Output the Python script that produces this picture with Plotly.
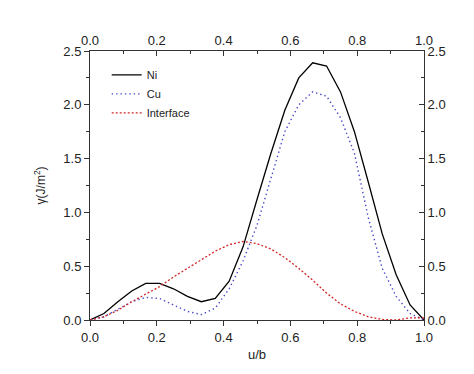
import plotly.graph_objects as go

u_b = [i / 24 for i in range(25)]
ni = [0.0, 0.06, 0.17, 0.27, 0.34, 0.34, 0.29, 0.22, 0.17, 0.20, 0.36, 0.68, 1.12,
      1.55, 1.95, 2.25, 2.39, 2.36, 2.12, 1.75, 1.28, 0.80, 0.42, 0.14, 0.0]
cu = [0.0, 0.03, 0.10, 0.17, 0.21, 0.20, 0.14, 0.08, 0.05, 0.11, 0.29, 0.55, 0.88,
      1.32, 1.75, 2.00, 2.12, 2.08, 1.88, 1.55, 0.95, 0.48, 0.22, 0.06, 0.0]
interface = [0.0, 0.03, 0.09, 0.17, 0.24, 0.31, 0.40, 0.48, 0.56, 0.64, 0.70, 0.73, 0.71,
             0.66, 0.58, 0.48, 0.37, 0.25, 0.15, 0.08, 0.03, 0.005, 0.0, 0.02, 0.02]

x_ticks = [0.0, 0.2, 0.4, 0.6, 0.8, 1.0]
y_ticks = [0.0, 0.5, 1.0, 1.5, 2.0, 2.5]

fig = go.Figure()
fig.add_trace(go.Scatter(x=u_b, y=ni, name="Ni", mode="lines",
                         line=dict(color="black", width=1.3)))
fig.add_trace(go.Scatter(x=u_b, y=cu, name="Cu", mode="lines",
                         line=dict(color="#4848c8", width=1.4, dash="1.4px,3px")))
fig.add_trace(go.Scatter(x=u_b, y=interface, name="Interface", mode="lines",
                         line=dict(color="#d02828", width=1.3, dash="2px,2px")))
# invisible trace for the top/right axes
fig.add_trace(go.Scatter(x=[0, 1], y=[0, 2.5], xaxis="x2", yaxis="y2", mode="lines",
                         line=dict(width=0), showlegend=False, hoverinfo="skip"))

axis_common = dict(showgrid=False, zeroline=False, showline=True, linecolor="#333",
                   linewidth=1, tickcolor="#333", ticklen=5, tickwidth=1,
                   tickfont=dict(family="Liberation Sans", size=13, color="#222"))

fig.update_layout(
    width=474, height=374,
    margin=dict(l=82, r=58, t=43, b=62),
    paper_bgcolor="white", plot_bgcolor="white",
    showlegend=True,
    legend=dict(x=0.05, y=0.965, xanchor="left", yanchor="top", bgcolor="rgba(0,0,0,0)",
                font=dict(family="Liberation Sans", size=11, color="#222"),
                tracegroupgap=0, itemwidth=30),
    xaxis=dict(range=[0, 1], tickvals=x_ticks, ticktext=[f"{v:.1f}" for v in x_ticks],
               ticks="outside", minor=dict(dtick=0.1, ticks="outside", ticklen=3, tickcolor="#333"),
               title=dict(text="u/b", font=dict(family="Liberation Sans", size=13, color="#222"),
                          standoff=6),
               **axis_common),
    yaxis=dict(range=[0, 2.5], tickvals=y_ticks, ticktext=[f"{v:.1f}" for v in y_ticks],
               ticks="outside", minor=dict(dtick=0.25, ticks="outside", ticklen=3, tickcolor="#333"),
               **axis_common),
    xaxis2=dict(range=[0, 1], overlaying="x", side="top", tickvals=x_ticks,
                ticktext=[f"{v:.1f}" for v in x_ticks], ticks="inside",
                minor=dict(dtick=0.1, ticks="inside", ticklen=3, tickcolor="#333"),
                **axis_common),
    yaxis2=dict(range=[0, 2.5], overlaying="y", side="right", tickvals=y_ticks,
                ticktext=[f"{v:.1f}" for v in y_ticks], ticks="inside",
                minor=dict(dtick=0.25, ticks="inside", ticklen=3, tickcolor="#333"),
                **axis_common),
    annotations=[dict(text="γ(J/m<sup>2</sup>)", xref="paper", yref="paper", x=-0.15, y=0.5,
                      xanchor="center", yanchor="middle", textangle=-90, showarrow=False,
                      font=dict(family="Liberation Sans", size=12, color="#222"))],
)

fig.write_html("out.html")
